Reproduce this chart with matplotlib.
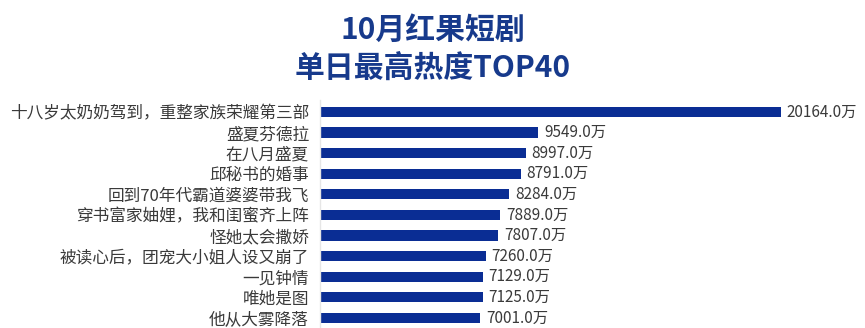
import matplotlib
matplotlib.use("Agg")
import matplotlib.pyplot as plt

plt.rcParams['font.family'] = ['Noto Sans CJK SC', 'DejaVu Sans']

titles = ["10月红果短剧", "单日最高热度TOP40"]
names = ["十八岁太奶奶驾到，重整家族荣耀第三部", "盛夏芬德拉", "在八月盛夏", "邱秘书的婚事",
         "回到70年代霸道婆婆带我飞", "穿书富家妯娌，我和闺蜜齐上阵", "怪她太会撒娇",
         "被读心后，团宠大小姐人设又崩了", "一见钟情", "唯她是图", "他从大雾降落"]
values = [20164.0, 9549.0, 8997.0, 8791.0, 8284.0, 7889.0, 7807.0, 7260.0, 7129.0, 7125.0, 7001.0]

W, H = 865, 328
fig = plt.figure(figsize=(W / 100, H / 100), dpi=100)
fig.patch.set_facecolor('white')

ax = fig.add_axes([320 / W, 0, (W - 320) / W, (H - 100) / H])
y = list(range(len(names)))
ax.barh(y, values, height=0.5, color='#0a2d94')
ax.set_ylim(10.49, -0.58)
ax.set_xlim(0, 23840)
ax.set_yticks(y)
ax.set_yticklabels(names, fontsize=12, color='#3a3a3a')
ax.tick_params(axis='y', length=0, pad=8)
ax.set_xticks([])
for s in ['top', 'right', 'bottom']:
    ax.spines[s].set_visible(False)
ax.spines['left'].set_color('#e6e6e6')
ax.spines['left'].set_linewidth(1)

for yi, v in zip(y, values):
    ax.text(v + 250, yi, f"{v:.1f}万", va='center', ha='left', fontsize=11, color='#3a3a3a')

fig.text(0.5, 1 - 30 / H, titles[0], ha='center', va='center', fontsize=21.5, fontweight='bold', color='#173a8c')
fig.text(0.5, 1 - 68 / H, titles[1], ha='center', va='center', fontsize=21.5, fontweight='bold', color='#173a8c')

fig.savefig("out.png", dpi=100, facecolor='white')
